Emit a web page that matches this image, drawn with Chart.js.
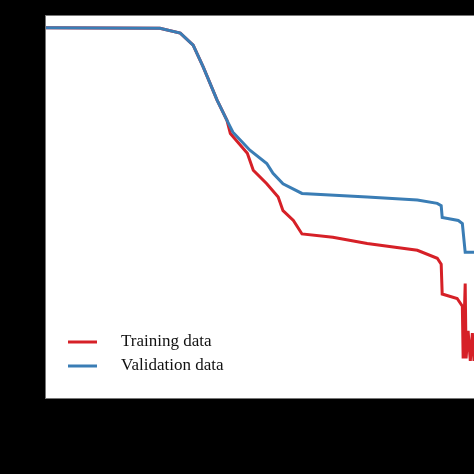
<!DOCTYPE html>
<html lang="en">
<head>
  <meta charset="UTF-8">
  <title>Training / validation loss</title>
  <script src="https://cdn.jsdelivr.net/npm/chart.js@4/dist/chart.umd.min.js"></script>
  <style>
    html, body { margin: 0; background: #000; }
    #wrap { width: 474px; height: 474px; }
  </style>
</head>
<body>
<div id="wrap"><canvas id="myChart"></canvas></div>
<script>
const trainX = [1, 50, 100, 155, 218, 350, 490, 550, 980, 1200, 1900, 2800, 3300, 4700, 6300, 18000, 58000, 320000, 630000, 720000, 745000, 1.24e6, 1.48e6, 1.52e6, 1.63e6, 1.68e6, 1.8e6, 1.94e6, 2.08e6, 2.2e6];
const trainY = [1.18, 1.15, 0.96, 0.61, 0.27, 0.077, 0.036, 0.022, 0.0104, 0.0055, 0.0033, 0.0020, 0.0012, 0.00083, 0.00050, 0.00044, 0.00035, 0.00027, 0.00020, 0.00016, 0.000052, 0.000044, 0.000033, 4.6e-6, 7.7e-5, 4.6e-6, 1.3e-5, 4.2e-6, 1.2e-5, 4.2e-6];
const validX = [1, 50, 100, 155, 218, 350, 490, 600, 1070, 1900, 2350, 3300, 6300, 58000, 320000, 630000, 720000, 745000, 1.29e6, 1.48e6, 1.63e6, 2.2e6];
const validY = [1.18, 1.15, 0.96, 0.61, 0.27, 0.077, 0.036, 0.023, 0.0117, 0.0071, 0.0049, 0.0033, 0.0023, 0.0020, 0.0018, 0.00158, 0.00145, 0.00093, 0.00083, 0.00074, 0.00025, 0.00025];
const seriesNames = ['Training data', 'Validation data'];
const seriesColors = ['#d62027', '#3a7db5'];

const pts = (xs, ys) => xs.map((x, i) => ({x: x, y: ys[i]}));

const frame = {
  id: 'frame',
  beforeDraw(chart) {
    const {ctx, chartArea: a} = chart;
    ctx.save();
    ctx.fillStyle = '#000';
    ctx.fillRect(0, 0, chart.width, chart.height);
    ctx.fillStyle = '#fff';
    ctx.fillRect(a.left, a.top, a.right - a.left, a.bottom - a.top);
    ctx.restore();
  },
  afterDraw(chart) {
    const {ctx, chartArea: a} = chart;
    ctx.save();
    ctx.strokeStyle = '#777';
    ctx.lineWidth = 1;
    ctx.strokeRect(a.left + 0.5, a.top + 0.5, a.right - a.left, a.bottom - a.top - 1);
    // legend
    ctx.font = '17px "Liberation Serif"';
    ctx.textBaseline = 'middle';
    seriesNames.forEach((name, i) => {
      const y = 342 + i * 24;
      ctx.strokeStyle = seriesColors[i];
      ctx.lineWidth = 3;
      ctx.beginPath(); ctx.moveTo(68, y); ctx.lineTo(97, y); ctx.stroke();
      ctx.fillStyle = '#111';
      ctx.fillText(name, 121, y);
    });
    ctx.restore();
  }
};

new Chart(document.getElementById('myChart'), {
  type: 'line',
  data: {
    datasets: [
      {label: seriesNames[1], data: pts(validX, validY), borderColor: seriesColors[1], borderWidth: 3, pointRadius: 0, tension: 0},
      {label: seriesNames[0], data: pts(trainX, trainY), borderColor: seriesColors[0], borderWidth: 3, pointRadius: 0, tension: 0}
    ]
  },
  options: {
    animation: false,
    responsive: true,
    maintainAspectRatio: false,
    layout: {padding: {top: 15, right: 0, left: 0, bottom: 0}},
    plugins: {legend: {display: false}, tooltip: {enabled: false}},
    scales: {
      x: {
        type: 'logarithmic', min: 1, max: 2.2e6,
        grid: {display: false}, border: {display: false},
        ticks: {display: false},
        afterFit(s) { s.height = 75; }
      },
      y: {
        type: 'logarithmic', min: 1e-6, max: 1.9,
        grid: {display: false}, border: {display: false},
        ticks: {display: false},
        afterFit(s) { s.width = 45; }
      }
    }
  },
  plugins: [frame]
});
</script>
</body>
</html>
